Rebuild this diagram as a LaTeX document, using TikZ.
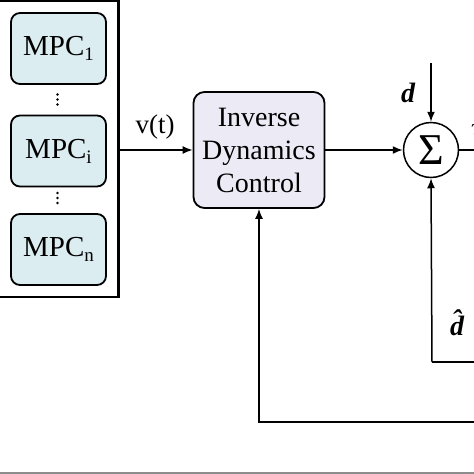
\documentclass[tikz,border=0pt]{standalone}
\usepackage{fontspec}
\setmainfont{Liberation Serif}
\usetikzlibrary{arrows.meta}
\definecolor{mpcfill}{RGB}{220,237,242}
\definecolor{idcfill}{RGB}{236,234,244}
\newcommand\subx[1]{\raisebox{-5pt}{\fontsize{19}{19}\selectfont #1}}
\begin{document}
\begin{tikzpicture}[x=1pt,y=-1pt,
  mpc/.style={draw, line width=1.8pt, rounded corners=9pt, fill=mpcfill,
    minimum width=95pt, minimum height=71pt, inner sep=0pt,
    font=\fontsize{29}{30}\selectfont},
  idc/.style={draw, line width=1.8pt, rounded corners=11pt, fill=idcfill,
    minimum width=131pt, minimum height=116pt, inner sep=0pt, align=center,
    font=\fontsize{28}{33}\selectfont},
  sumnode/.style={draw, circle, line width=1.5pt, minimum size=55pt, inner sep=0pt,
    font=\fontsize{44}{44}\selectfont},
  lbl/.style={inner sep=0pt, font=\fontsize{27}{27}\selectfont},
  conn/.style={line width=1.5pt, -{Latex[length=10pt,width=8pt]}},
  plain/.style={line width=1.5pt}]
\useasboundingbox (0,0) rectangle (474,474);
% outer frame of MPC bank
\draw[line width=2.2pt] (-5,1.2) -| (118.5,297) -- (-5,297);
\node[mpc] (m1) at (58.5,48.5) {MPC\subx{1}};
\node[mpc] (mi) at (58.5,151) {MPC\subx{i}};
\node[mpc] (mn) at (58.5,249.5) {MPC\subx{n}};
\foreach \y in {94.5,99.5,104.5,193,198,203} \fill (57.5,\y) circle (1.4pt);
% inverse dynamics control
\node[idc] (idc) at (259,150) {Inverse\\Dynamics\\Control};
\coordinate (bankout) at (118.5,150);
\draw[conn] (bankout) -- (idc.west);
\node[lbl] (v) at (155,127) {v(t)};
% summing junction
\node[sumnode] (sum) at (431,150) {Σ};
\draw[conn] (idc.east) -- (sum.west);
\coordinate (dtop) at (431,63);
\draw[conn] (dtop) -- (sum.north);
\node[lbl, font=\fontsize{28}{28}\selectfont\bfseries\itshape] (d) at (408,93) {d};
\coordinate (outr) at (480,150);
\draw[plain] (sum.east) -- (outr);
\node[lbl, anchor=west, font=\fontsize{26}{26}\selectfont\itshape] (tau) at (471,131) {τ};
% disturbance estimate loop
\coordinate (dh) at (432,362);
\coordinate (dhr) at (480,362);
\draw[conn] (dh) -- (sum.south);
\draw[plain] (dh) -- (dhr);
\node[lbl, font=\fontsize{28}{28}\selectfont\bfseries\itshape] (dhat) at (457,323) {\^{d}};
% feedback to IDC
\coordinate (fbr) at (480,422);
\draw[conn] (fbr) -| (idc.south);
% bottom gray rule
\coordinate (gl) at (0,473);
\coordinate (gr) at (474,473);
\draw[line width=2pt, black!45] (gl) -- (gr);
\end{tikzpicture}
\end{document}
